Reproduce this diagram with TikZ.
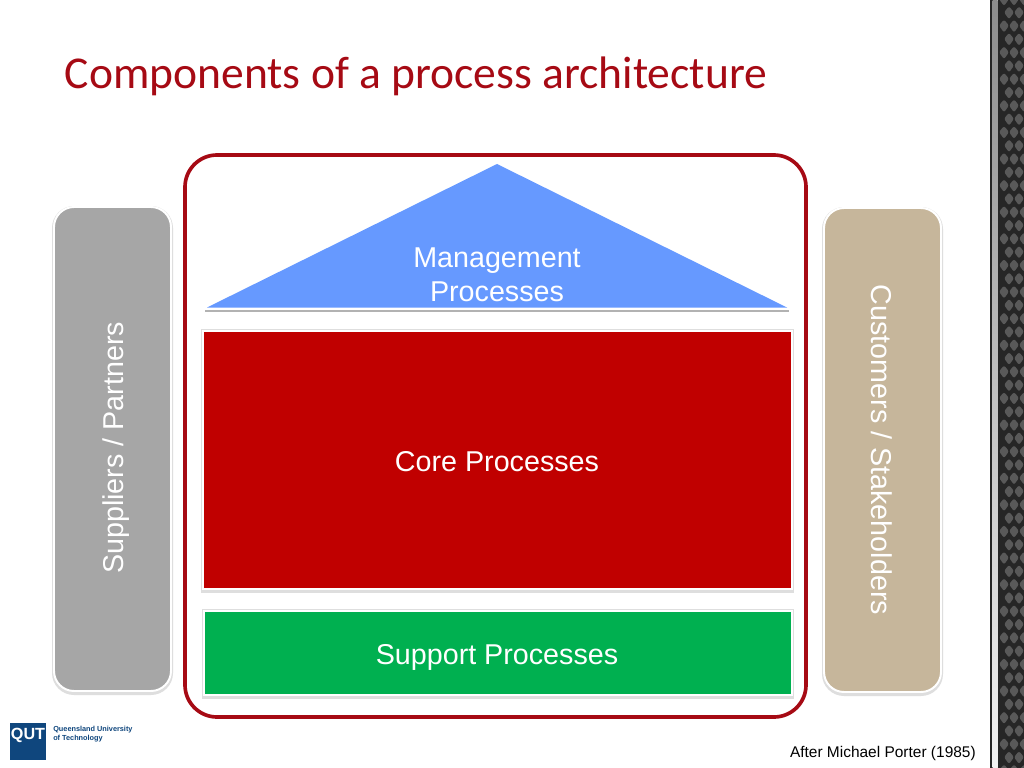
\documentclass[tikz,border=0pt]{standalone}
\usepackage{fontspec}
\setmainfont{Liberation Sans}
\newfontfamily\titlefont{Carlito}
\usetikzlibrary{positioning}
\definecolor{qutred}{RGB}{166,10,20}
\definecolor{coreRed}{RGB}{192,0,0}
\definecolor{mgmtBlue}{RGB}{102,153,255}
\definecolor{supportGreen}{RGB}{0,176,80}
\definecolor{supplierGray}{RGB}{166,166,166}
\definecolor{customerTan}{RGB}{198,182,155}
\definecolor{qutBlue}{RGB}{15,70,125}
\definecolor{carbon}{RGB}{38,38,38}

\begin{document}
\begin{tikzpicture}
  [x=0.025cm, y=-0.025cm,
  sidebox/.style={rounded corners=0.5cm,draw=white,line width=1.4pt},
  procbox/.style={draw=white,line width=1.4pt},
  shade/.style={fill=black!13},
  boxtext/.style={white,font=\fontsize{20.4}{24.2}\selectfont,align=center}]

\useasboundingbox (0, 0) rectangle (1024, 768);
\fill[white] (0, 0) rectangle (1024, 768);

% Carbon strip at the right edge
\fill[black!85] (990, 0) rectangle (992.5, 768);
\shade[top color=black!45, bottom color=black!5] (992.5, 0) rectangle (997.5, 768);
\fill[carbon] (997.5, 0) rectangle (1024, 768);
\foreach \row in {0,...,58} {
  \foreach \col in {0,...,2} {
    \fill[black!65, rounded corners=1.5pt] ({1004+\col*10+mod(\row,2)*5}, {\row*13.3-7}) -- ++(5, 6) -- ++(-5, 7) -- ++(-5, -7) -- cycle;
  }
}

% Title
\node[anchor=west, qutred, font=\titlefont\fontsize{32.4}{38}\selectfont] (title) at (60, 76.5) {Components of a process architecture};

% Outer frame
\draw[qutred, line width=2.6pt, rounded corners=0.8cm] (185, 155) rectangle (806, 717);

% Side boxes
\fill[shade, rounded corners=0.55cm] (52, 206) rectangle (173, 695);
\draw[sidebox, fill=supplierGray] (54, 207) rectangle (171, 691);
\node[boxtext, rotate=90] (suppliers) at (116, 448) {Suppliers / Partners};
\fill[shade, rounded corners=0.55cm] (822, 207) rectangle (943, 696);
\draw[sidebox, fill=customerTan] (824, 208) rectangle (941, 692);
\node[boxtext, rotate=-90] (customers) at (882, 450) {Customers / Stakeholders};

% Management triangle
\fill[black!30] (205, 309.5) rectangle (789, 312);
\fill[mgmtBlue] (497, 164) -- (787, 307.5) -- (207, 307.5) -- cycle;
\node[boxtext] (mgmt) at (497, 275) {Management\\Processes};

% Core and support
\fill[shade] (201, 329) rectangle (794, 592.5);
\draw[procbox, fill=coreRed] (203, 331) rectangle (792, 589);
\node[boxtext] (core) at (497, 462) {Core Processes};
\fill[shade] (202, 609) rectangle (794, 698.5);
\draw[procbox, fill=supportGreen] (204, 611) rectangle (792, 695);
\node[boxtext] (support) at (497, 657) {Support Processes};

% Logo and credit
\fill[qutBlue] (10, 723) rectangle (46, 760);
\node[white, font=\bfseries\fontsize{11.5}{12}\selectfont, inner sep=0pt] (qut) at (28, 735) {QUT};
\node[anchor=west, qutBlue, align=left, inner sep=0pt, font=\bfseries\fontsize{5.2}{6.6}\selectfont] (uni) at (53, 734) {Queensland University\\of Technology};
\node[anchor=east, inner sep=0pt, font=\fontsize{11}{13}\selectfont] (credit) at (976, 753) {After Michael Porter (1985)};

\end{tikzpicture}
\end{document}
